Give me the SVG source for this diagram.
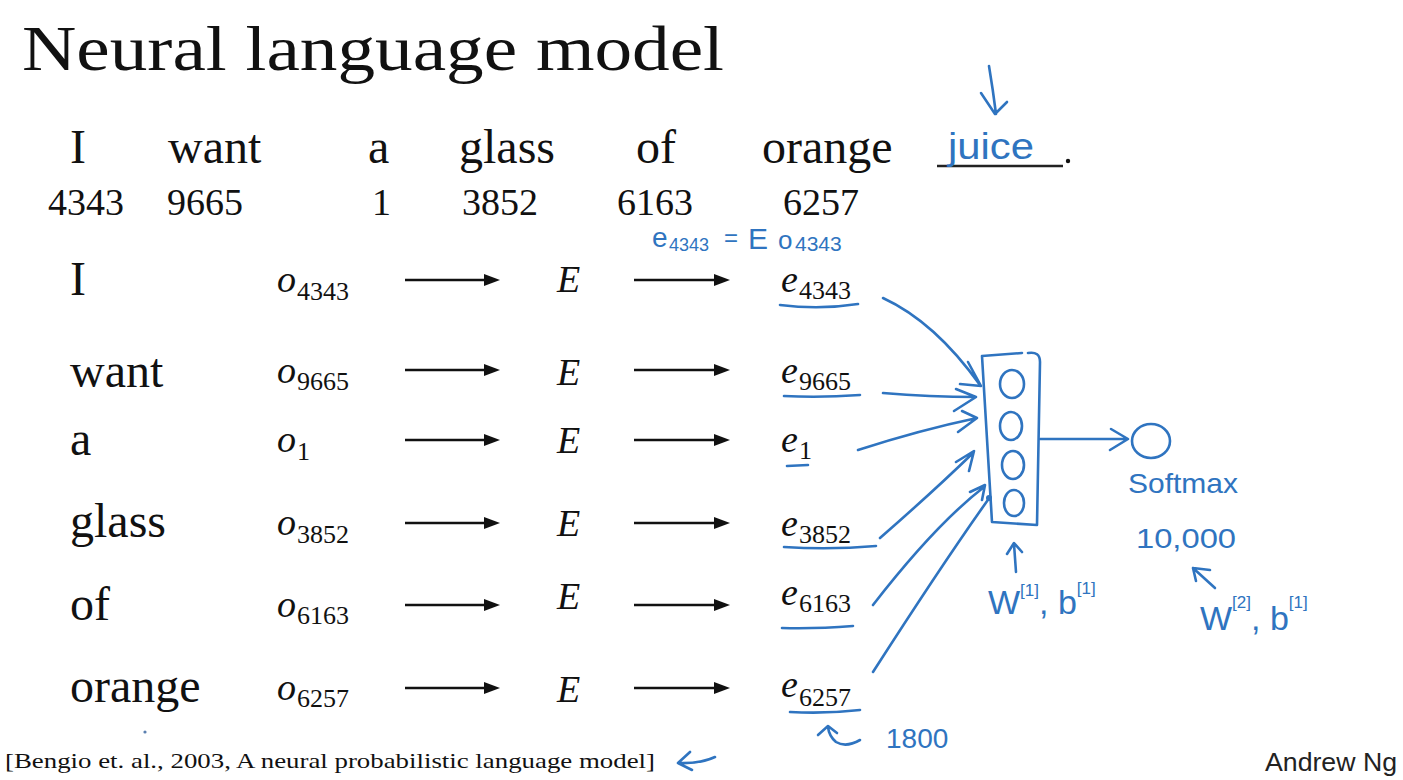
<svg xmlns="http://www.w3.org/2000/svg" width="1403" height="780" viewBox="0 0 1403 780">
<style>
.serif{font-family:"Liberation Serif","Times New Roman",serif;fill:#111}
.mi{font-family:"Liberation Serif","Times New Roman",serif;font-style:italic;font-size:38px;fill:#111}
.sub{font-family:"Liberation Serif","Times New Roman",serif;font-size:26px;fill:#111}
.hw{font-family:"Liberation Sans",Arial,sans-serif;fill:#2f74c0}
.ink{fill:none;stroke:#2f74c0;stroke-width:2.6;stroke-linecap:round;stroke-linejoin:round}
.arr{stroke:#111;stroke-width:2.5;marker-end:url(#ah)}
</style>
<defs>
<marker id="ah" markerUnits="userSpaceOnUse" markerWidth="16" markerHeight="12" refX="6" refY="6" orient="auto">
<path d="M0,0 L16,6 L0,12 z" fill="#111"/>
</marker>
</defs>
<rect width="1403" height="780" fill="#fff"/>

<g id="title">
<text class="serif" x="22" y="70" font-size="64" textLength="702" lengthAdjust="spacingAndGlyphs">Neural language model</text>
</g>

<g id="sentence">
<text class="serif" x="70" y="163" font-size="48">I</text>
<text class="serif" x="168" y="163" font-size="48">want</text>
<text class="serif" x="368" y="163" font-size="48">a</text>
<text class="serif" x="459" y="163" font-size="48">glass</text>
<text class="serif" x="636" y="163" font-size="48">of</text>
<text class="serif" x="762" y="163" font-size="48">orange</text>
<line x1="937" y1="166" x2="1063" y2="166" stroke="#222" stroke-width="2.5"/>
<circle cx="1068" cy="161" r="2.2" fill="#111"/>
</g>

<g id="indices">
<text class="serif" x="48" y="215" font-size="38">4343</text>
<text class="serif" x="167" y="215" font-size="38">9665</text>
<text class="serif" x="372" y="215" font-size="38">1</text>
<text class="serif" x="462" y="215" font-size="38">3852</text>
<text class="serif" x="617" y="215" font-size="38">6163</text>
<text class="serif" x="783" y="215" font-size="38">6257</text>
</g>

<g id="juice">
<path class="ink" d="M989,66 Q993,90 996,114 M981,93 L995,114 L1007,102"/>
<text class="hw" x="948" y="159" font-size="36" textLength="86" lengthAdjust="spacingAndGlyphs">juice</text>
</g>

<g id="annotation">
<text class="hw"><tspan x="652" y="247" font-size="28">e</tspan><tspan x="669" y="251" font-size="18">4343</tspan><tspan x="724" y="246" font-size="24">=</tspan><tspan x="748" y="249" font-size="30">E</tspan><tspan x="778" y="249" font-size="26">o</tspan><tspan x="795" y="251" font-size="21">4343</tspan></text>
</g>

<g id="words">
<text class="serif" x="70" y="295" font-size="48">I</text>
<text class="serif" x="70" y="387" font-size="48">want</text>
<text class="serif" x="70" y="455" font-size="48">a</text>
<text class="serif" x="70" y="537" font-size="48">glass</text>
<text class="serif" x="70" y="620" font-size="48">of</text>
<text class="serif" x="70" y="702" font-size="48">orange</text>
</g>

<g id="onehot">
<text><tspan class="mi" x="277" y="292">o</tspan><tspan class="sub" x="297" y="300">4343</tspan></text>
<text><tspan class="mi" x="277" y="383">o</tspan><tspan class="sub" x="297" y="390">9665</tspan></text>
<text><tspan class="mi" x="277" y="452">o</tspan><tspan class="sub" x="297" y="460">1</tspan></text>
<text><tspan class="mi" x="277" y="535">o</tspan><tspan class="sub" x="297" y="543">3852</tspan></text>
<text><tspan class="mi" x="277" y="617">o</tspan><tspan class="sub" x="297" y="624">6163</tspan></text>
<text><tspan class="mi" x="277" y="700">o</tspan><tspan class="sub" x="297" y="707">6257</tspan></text>
</g>

<g id="E">
<text class="mi" x="557" y="292">E</text>
<text class="mi" x="557" y="385">E</text>
<text class="mi" x="557" y="453">E</text>
<text class="mi" x="557" y="536">E</text>
<text class="mi" x="557" y="609">E</text>
<text class="mi" x="557" y="702">E</text>
</g>

<g id="embeddings">
<text><tspan class="mi" x="781" y="292">e</tspan><tspan class="sub" x="799" y="299">4343</tspan></text>
<text><tspan class="mi" x="781" y="383">e</tspan><tspan class="sub" x="799" y="390">9665</tspan></text>
<text><tspan class="mi" x="781" y="452">e</tspan><tspan class="sub" x="799" y="459">1</tspan></text>
<text><tspan class="mi" x="781" y="536">e</tspan><tspan class="sub" x="799" y="543">3852</tspan></text>
<text><tspan class="mi" x="781" y="605">e</tspan><tspan class="sub" x="799" y="612">6163</tspan></text>
<text><tspan class="mi" x="781" y="697">e</tspan><tspan class="sub" x="799" y="706">6257</tspan></text>
<path class="ink" d="M780,305 Q820,310 858,304 M784,396 Q820,398 860,395 M787,466 L808,465 M784,547 Q830,550 876,546 M782,628 Q815,629 853,626 M790,712 Q825,714 860,710"/>
</g>

<g id="connectors">
<line class="arr" x1="405" y1="280" x2="490" y2="280"/>
<line class="arr" x1="634" y1="280" x2="720" y2="280"/>
<line class="arr" x1="405" y1="370" x2="490" y2="370"/>
<line class="arr" x1="634" y1="370" x2="720" y2="370"/>
<line class="arr" x1="405" y1="440" x2="490" y2="440"/>
<line class="arr" x1="634" y1="440" x2="720" y2="440"/>
<line class="arr" x1="405" y1="523" x2="490" y2="523"/>
<line class="arr" x1="634" y1="523" x2="720" y2="523"/>
<line class="arr" x1="405" y1="605" x2="490" y2="605"/>
<line class="arr" x1="634" y1="605" x2="720" y2="605"/>
<line class="arr" x1="405" y1="688" x2="490" y2="688"/>
<line class="arr" x1="634" y1="688" x2="720" y2="688"/>
<path class="ink" d="M883,298 Q935,322 980,385 M960,384 L981,386 L968,362"/>
<path class="ink" d="M883,393 Q930,397 976,397 M956,389 L976,397 L954,411"/>
<path class="ink" d="M858,450 Q920,430 977,418 M962,411 L977,418 L958,432"/>
<path class="ink" d="M880,538 Q935,490 973,453 M956,462 L974,451 L969,471"/>
<path class="ink" d="M873,605 Q935,525 984,487 M970,492 L985,485 L982,500"/>
<path class="ink" d="M873,672 Q945,560 990,497"/>
<path class="ink" d="M1040,439 L1127,439 M1111,429 L1128,439 L1110,450"/>
</g>

<g id="hidden-layer">
<path class="ink" d="M1028,353 Q1040,351 1040,362 L1037,525 L992,522 L982,356 L1022,353"/>
<ellipse class="ink" cx="1012" cy="384" rx="12" ry="14"/>
<ellipse class="ink" cx="1011" cy="426" rx="11" ry="14"/>
<ellipse class="ink" cx="1013" cy="465" rx="11" ry="14"/>
<ellipse class="ink" cx="1014" cy="503" rx="10" ry="13"/>
<circle cx="989" cy="498" r="3" fill="#2f74c0"/>
<path class="ink" d="M1016,572 L1014,544 M1007,554 L1014,543 L1022,552"/>
<text class="hw" x="988" y="614" font-size="34">W<tspan font-size="17" dy="-18">[1]</tspan><tspan font-size="34" dy="18">, b</tspan><tspan font-size="17" dy="-20">[1]</tspan></text>
<text class="hw" x="1136" y="548" font-size="28" textLength="100" lengthAdjust="spacingAndGlyphs">10,000</text>
</g>

<g id="softmax">
<ellipse class="ink" cx="1151" cy="441" rx="19" ry="17"/>
<text class="hw" x="1128" y="493" font-size="28" textLength="110" lengthAdjust="spacingAndGlyphs">Softmax</text>
<path class="ink" d="M1215,588 L1193,568 M1193,568 L1210,570 M1193,568 L1196,581"/>
<text class="hw" x="1200" y="630" font-size="34">W<tspan font-size="17" dy="-22">[2]</tspan><tspan font-size="34" dy="22">, b</tspan><tspan font-size="17" dy="-22">[1]</tspan></text>
</g>

<g id="dim">
<path class="ink" d="M860,740 Q846,748 836,742 Q829,736 828,727 M818,735 L828,726 L837,733"/>
<text class="hw" x="886" y="748" font-size="28">1800</text>
</g>

<g id="footer">
<circle cx="145" cy="732" r="1.6" fill="#5a7fb0"/>
<text class="serif" x="5" y="768" font-size="22" textLength="650" lengthAdjust="spacingAndGlyphs">[Bengio et. al., 2003, A neural probabilistic language model]</text>
<path class="ink" d="M715,757 Q700,764 678,763 M690,752 L678,763 L692,770"/>
<text x="1265" y="771" font-family="Liberation Sans,Arial,sans-serif" font-size="25" fill="#222" textLength="132" lengthAdjust="spacingAndGlyphs">Andrew Ng</text>
</g>
</svg>
